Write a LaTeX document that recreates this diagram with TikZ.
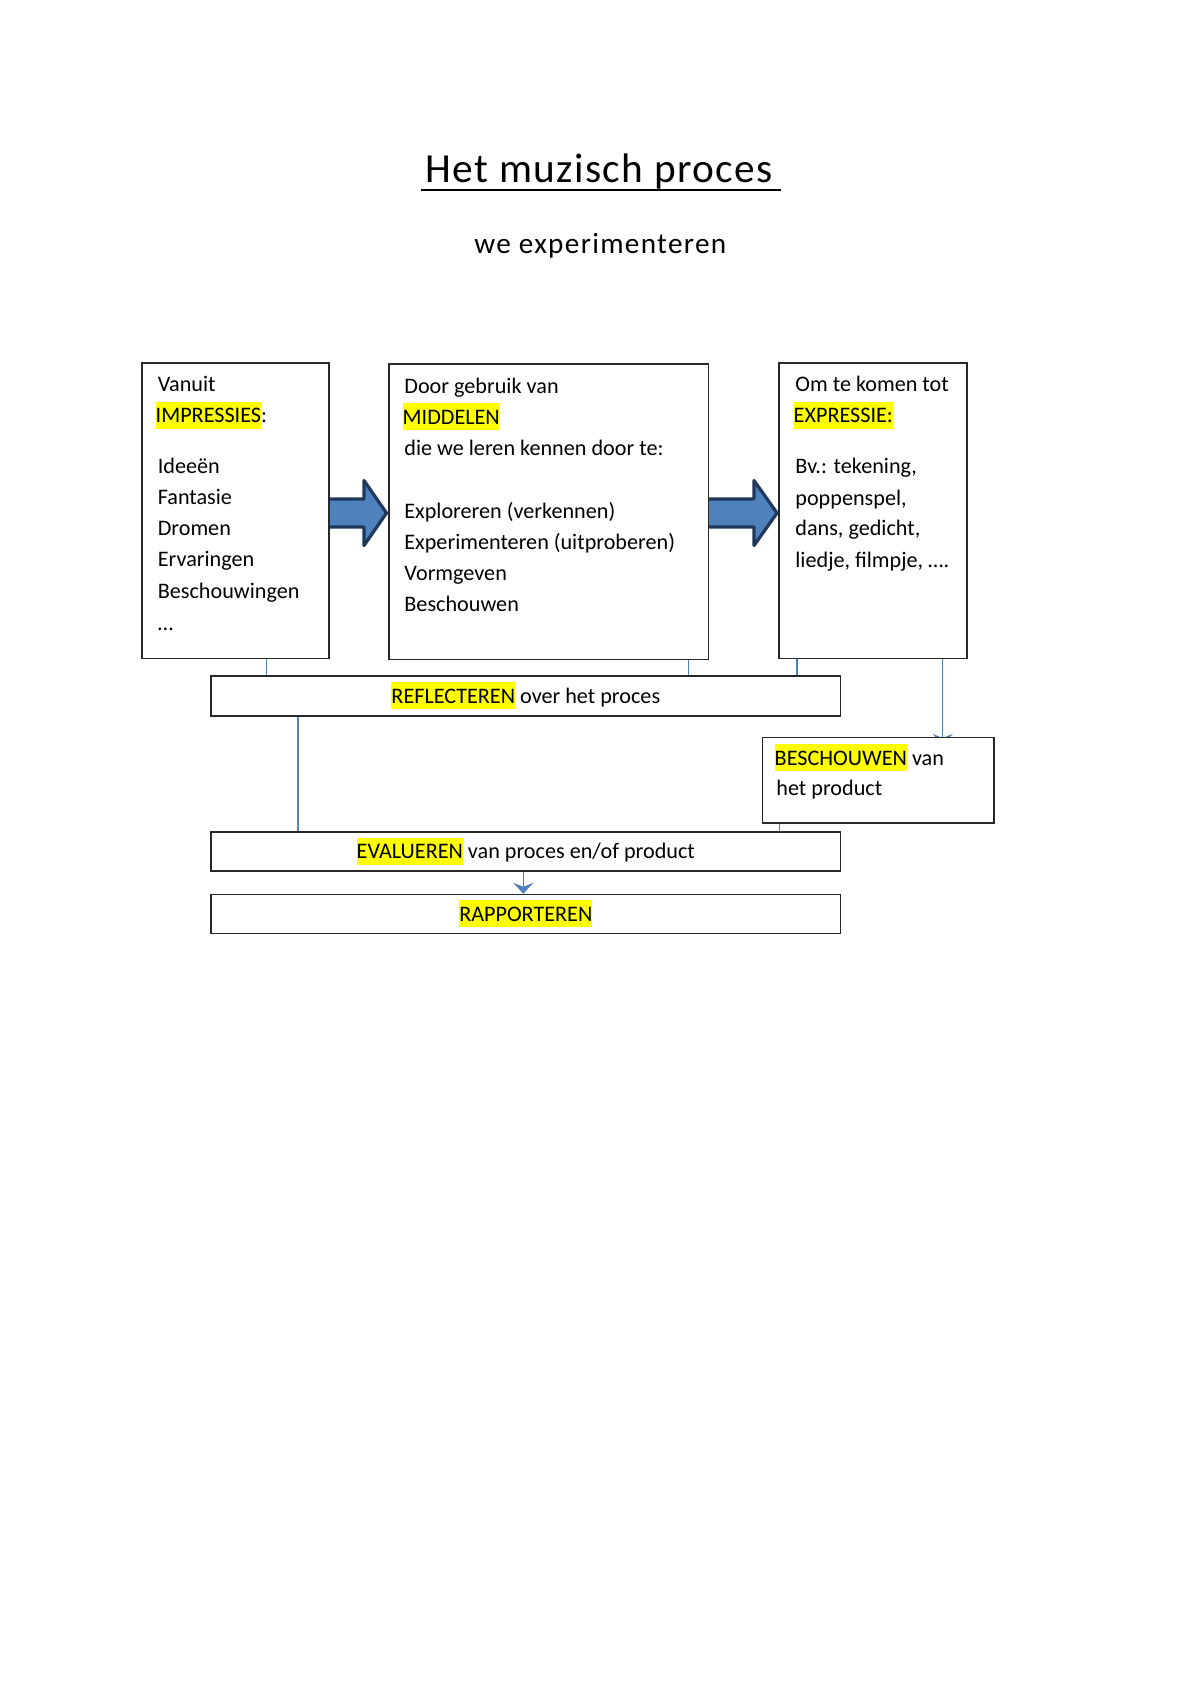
\documentclass[tikz,border=0pt]{standalone}
\usepackage{fontspec}
\setmainfont{Carlito}
\usetikzlibrary{arrows.meta,fit}
\definecolor{hlyellow}{RGB}{255,255,0}
\definecolor{connblue}{RGB}{79,129,189}
\definecolor{arrfill}{RGB}{79,129,189}
\definecolor{arrline}{RGB}{31,56,92}
\definecolor{boxline}{RGB}{40,40,40}
\newcommand{\hlt}[1]{{\setlength{\fboxsep}{0pt}\colorbox{hlyellow}{\rule[-0.269em]{0pt}{1.221em}#1}}}
\pgfdeclarelayer{bg}
\pgfsetlayers{bg,main}
\begin{document}
\begin{tikzpicture}[x=0.49606pt,y=-0.49606pt,
  boxnode/.style={draw=boxline,line width=0.8pt,fill=white,inner sep=0pt},
  txt/.style={anchor=base west,inner sep=0pt,font=\fontsize{11pt}{13pt}\selectfont},
  ctxt/.style={anchor=base,inner sep=0pt,font=\fontsize{11pt}{13pt}\selectfont},
  conn/.style={draw=connblue,line width=0.65pt},
  connarrow/.style={conn,-{Stealth[length=5.5pt,width=10pt,inset=2pt,line width=0.6pt]}},
  bigfill/.style={fill=arrfill},
  bigline/.style={draw=arrline,line width=1.6pt,line join=round}
]
\useasboundingbox (0,0) rectangle (1200,1698);

% title
\node[anchor=base west,inner sep=0pt,font=\fontsize{20.5pt}{24pt}\selectfont\addfontfeature{LetterSpace=3.5}] (title) at (425,182) {Het muzisch proces};
\draw[line width=1.1pt] (420.5,190) -- (781,190);
\node[anchor=base west,inner sep=0pt,font=\fontsize{14.5pt}{17pt}\selectfont\addfontfeature{LetterSpace=4.5}] (sub) at (474,253.3) {we experimenteren};

% boxes
\node[boxnode,fit={(141.9,362.8) (329.2,658.5)}] (b1) {};
\node[boxnode,fit={(388.8,363.9) (708.3,659.6)}] (b2) {};
\node[boxnode,fit={(778.7,362.8) (967.1,658.5)}] (b3) {};
\node[boxnode,fit={(211.2,675.8) (840.4,715.9)}] (refl) {};
\node[boxnode,fit={(762.5,737.5) (994.2,823.1)}] (besch) {};
\node[boxnode,fit={(211.2,831.7) (840.4,870.7)}] (eval) {};
\node[boxnode,fit={(211.2,894.6) (840.4,933.5)}] (rapp) {};

% connectors (behind boxes)
\coordinate (beschIn) at (942.7,745);
\begin{pgfonlayer}{bg}
\fill[white] (0,0) rectangle (1200,1698);
\draw[conn] (266.7,0 |- b1.south) -- (266.7,0 |- refl.north);
\draw[conn] (688.5,0 |- b2.south) -- (688.5,0 |- refl.north);
\draw[conn] (797,0 |- b3.south) -- (797,0 |- refl.north);
\draw[conn] (298,0 |- refl.south) -- (298,0 |- eval.north);
\draw[conn] (779.5,0 |- besch.south) -- (779.5,0 |- eval.north);
\draw[connarrow] (942.7,0 |- b3.south) -- (beschIn);
\end{pgfonlayer}
\draw[connarrow] (523.3,0 |- eval.south) -- (523.3,0 |- rapp.north);

% big arrows
\fill[bigfill] (b1.east |- 0,499) -- (364,499) -- (364,480.5) -- (386.5,513) -- (364,545.5) -- (364,527) -- (b1.east |- 0,527) -- cycle;
\draw[bigline] (b1.east |- 0,499) -- (364,499) -- (364,480.5) -- (386.5,513) -- (364,545.5) -- (364,527) -- (b1.east |- 0,527);
\fill[bigfill] (b2.east |- 0,499) -- (754,499) -- (754,480.5) -- (777,513) -- (754,545.5) -- (754,527) -- (b2.east |- 0,527) -- cycle;
\draw[bigline] (b2.east |- 0,499) -- (754,499) -- (754,480.5) -- (777,513) -- (754,545.5) -- (754,527) -- (b2.east |- 0,527);

% box 1 text
\node[txt] (t1a) at (157.4,391.7) {Vanuit};
\node[txt] (t1b) at (155.3,422.7) {\hlt{IMPRESSIES}:};
\node[txt] (t1c) at (157.4,473.3) {Ideeën};
\node[txt] (t1d) at (157.4,504.3) {Fantasie};
\node[txt] (t1e) at (157.4,535) {Dromen};
\node[txt] (t1f) at (157.4,566.7) {Ervaringen};
\node[txt] (t1g) at (157.4,598.3) {Beschouwingen};
\node[txt] (t1h) at (157.4,630) {…};

% box 2 text
\node[txt] (t2a) at (404,393.3) {Door gebruik van};
\node[txt] (t2b) at (402.3,424) {\hlt{MIDDELEN}};
\node[txt] (t2c) at (404,455) {die we leren kennen door te:};
\node[txt] (t2d) at (404,518.3) {Exploreren (verkennen)};
\node[txt] (t2e) at (404,549) {Experimenteren (uitproberen)};
\node[txt] (t2f) at (404,580) {Vormgeven};
\node[txt] (t2g) at (404,611) {Beschouwen};

% box 3 text
\node[txt] (t3a) at (795,391.7) {Om te komen tot};
\node[txt] (t3b) at (793.3,422.7) {\hlt{EXPRESSIE:}};
\node[txt] (t3c) at (795,473.3) {Bv.: tekening,};
\node[txt] (t3d) at (795,505) {poppenspel,};
\node[txt] (t3e) at (795,535.7) {dans, gedicht,};
\node[txt] (t3f) at (795,567.3) {liedje, filmpje, ….};

% other boxes text
\node[ctxt] (trefl) at (525.8,703.3) {\hlt{REFLECTEREN} over het proces};
\node[txt] (tbesch1) at (774.3,765) {\hlt{BESCHOUWEN} van};
\node[txt] (tbesch2) at (776,795.7) {het product};
\node[ctxt] (teval) at (525.8,858.6) {\hlt{EVALUEREN} van proces en/of product};
\node[ctxt] (trapp) at (525.8,921.3) {\hlt{RAPPORTEREN}};
\end{tikzpicture}
\end{document}
